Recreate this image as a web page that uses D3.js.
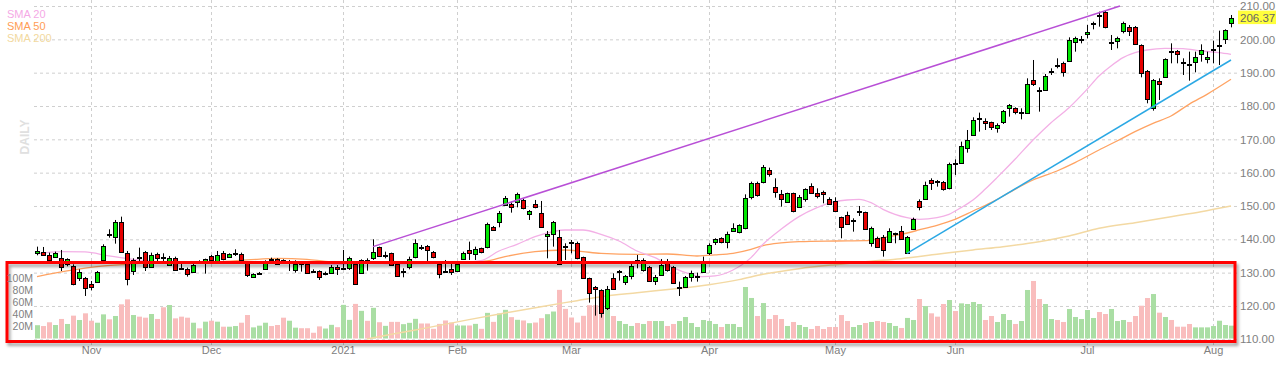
<!DOCTYPE html>
<html>
<head>
<meta charset="utf-8">
<script src="https://cdn.jsdelivr.net/npm/d3@7"></script>
<style>
body { margin: 0; background: #fff; }
text { font-family: "Liberation Sans", Arial, sans-serif; }
</style>
</head>
<body>
<div id="chart"></div>
<script>

// daily candles, Oct 20 2020 .. Aug 5 2021 (200 sessions)
var opens = [
  135.8,136.2,135.3,134.7,134.3,132.5,132.0,128.3,128.3,126.5,
  127.2,133.8,141.6,140.8,145.3,136.0,130.5,134.8,136.2,131.8,
  135.5,134.6,132.3,134.5,131.5,131.2,130.3,133.6,133.2,135.0,
  133.3,135.8,134.7,135.9,135.7,133.0,128.7,129.9,131.0,134.2,
  134.0,133.8,133.3,130.7,132.8,132.7,130.4,130.5,129.8,130.0,
  131.8,131.3,131.3,132.5,130.0,133.9,134.3,137.6,135.2,135.8,
  132.5,130.2,131.6,134.6,137.6,138.0,136.1,132.5,130.6,131.2,
  130.6,134.0,136.8,135.6,137.3,137.6,143.6,145.1,150.3,150.5,
  151.3,151.8,147.6,150.6,148.0,141.0,141.6,140.6,137.9,139.1,
  139.0,134.6,128.3,125.8,124.8,119.5,128.5,130.2,127.1,129.1,
  133.7,130.8,131.6,127.6,129.3,133.0,131.6,125.5,125.8,128.6,
  128.7,130.3,136.0,139.1,140.3,139.1,142.6,142.3,143.3,152.6,
  157.0,157.1,160.8,155.6,153.6,151.3,153.8,149.8,152.0,156.0,
  153.8,154.2,152.1,151.5,146.6,147.3,145.5,148.4,148.1,138.8,
  140.5,140.8,139.3,141.7,142.5,135.8,143.0,151.5,152.1,157.8,
  157.4,157.1,155.3,162.9,162.8,167.3,171.3,176.2,175.5,175.1,
  173.5,175.1,179.3,179.3,177.9,177.8,187.8,184.9,184.8,190.2,
  192.4,193.0,193.6,199.1,199.9,201.5,204.7,207.4,208.3,198.9,
  199.6,202.5,203.8,203.6,198.3,190.5,179.3,187.5,188.8,196.4,
  196.5,193.2,192.6,193.1,195.5,194.1,197.0,198.0,200.0,205.0
];
var highs = [
  137.8,137.7,136.0,136.3,136.8,134.3,132.5,131.0,128.7,127.5,
  130.5,138.5,143.0,145.8,146.8,136.5,134.3,137.5,136.5,136.0,
  136.0,135.8,135.0,134.8,133.0,131.5,132.7,133.7,134.2,135.3,
  136.5,136.5,135.8,137.0,136.0,133.2,129.8,130.2,133.7,134.5,
  134.3,134.0,133.8,133.7,133.0,133.0,131.0,130.7,130.3,132.3,
  132.3,136.8,134.8,132.8,134.0,134.3,140.0,137.8,136.3,136.0,
  132.8,131.3,134.8,140.0,138.3,138.3,136.5,132.8,133.8,132.8,
  132.8,136.3,139.3,137.8,137.5,145.0,144.0,148.5,153.0,151.3,
  154.0,152.3,148.8,151.8,151.5,142.5,145.5,142.8,138.8,139.8,
  139.3,134.8,128.5,126.0,125.0,126.0,129.8,130.8,129.3,132.6,
  135.3,134.3,132.0,129.3,134.1,134.1,132.0,127.3,129.0,130.6,
  130.0,134.8,138.8,140.3,140.6,142.3,144.8,144.5,153.5,157.3,
  157.3,162.3,161.5,158.3,154.8,154.0,154.0,153.3,155.3,156.8,
  155.3,154.6,152.6,152.6,146.8,148.3,146.3,150.0,148.3,143.8,
  140.8,141.3,143.3,142.0,144.0,141.0,146.5,152.0,157.3,158.3,
  157.8,157.5,163.0,164.0,169.3,172.8,176.6,178.0,176.3,175.3,
  174.8,178.8,180.6,179.6,179.3,188.3,193.8,185.6,189.6,191.3,
  194.3,193.3,200.6,200.8,201.0,204.3,205.3,208.3,208.8,201.3,
  200.8,205.3,204.3,204.0,198.5,190.8,188.1,188.3,194.3,198.8,
  196.8,194.3,196.3,196.3,198.5,196.3,199.6,202.6,203.0,207.3
];
var lows = [
  135.2,135.0,133.0,134.5,130.5,131.9,126.2,127.5,123.0,124.7,
  127.0,133.5,140.5,138.7,136.0,126.2,129.3,133.0,130.5,131.5,
  133.0,133.0,132.0,130.5,131.0,128.8,130.0,133.0,129.7,133.5,
  133.0,133.7,134.5,135.0,133.5,128.7,128.5,129.7,130.8,133.3,
  132.3,133.3,130.5,130.0,130.3,130.0,130.0,127.8,129.2,129.6,
  129.3,131.0,130.8,126.3,129.6,130.6,133.8,134.8,134.3,132.0,
  128.8,128.6,131.0,134.3,136.8,133.3,134.3,128.3,130.0,129.3,
  130.3,133.8,133.8,133.8,135.8,137.3,142.6,143.6,150.0,148.0,
  149.6,149.0,145.8,149.3,143.5,134.3,137.8,132.3,133.8,135.8,
  134.0,128.3,121.0,117.1,116.5,118.8,124.8,127.6,126.3,128.0,
  131.3,130.3,127.3,126.3,129.0,130.3,126.6,123.0,125.6,127.3,
  127.3,130.0,135.3,138.3,138.8,137.3,142.3,141.8,143.0,152.0,
  152.8,156.8,158.8,152.5,149.8,151.1,148.1,149.6,151.3,153.8,
  152.3,150.8,150.3,148.3,140.3,144.3,142.3,147.0,142.8,137.8,
  137.5,134.8,139.0,138.8,139.8,135.7,142.8,148.7,151.8,154.8,
  155.8,154.6,155.0,159.3,162.6,166.0,171.0,172.3,172.8,172.8,
  172.0,174.6,176.8,177.5,176.0,177.6,186.0,178.3,184.6,189.3,
  191.3,188.8,193.3,196.3,198.8,200.3,203.0,203.8,203.3,196.8,
  197.3,201.8,201.0,198.3,188.6,180.8,178.6,181.8,188.6,192.8,
  192.8,189.3,187.6,190.1,193.3,192.8,192.8,192.3,198.6,203.6
];
var closes = [
  136.5,135.3,133.7,135.8,131.8,134.0,126.5,130.2,125.3,125.8,
  130.2,138.0,141.5,145.3,136.3,128.0,133.9,134.6,131.8,135.2,
  134.3,134.4,134.5,130.7,131.4,129.5,132.3,133.5,134.0,133.8,
  135.2,134.0,135.5,136.0,133.7,129.3,129.5,130.0,133.0,133.7,
  132.5,133.7,133.5,132.7,132.7,130.0,130.3,128.8,129.9,131.8,
  131.0,131.5,134.3,126.5,133.8,133.7,136.3,135.0,135.4,132.3,
  129.0,130.4,134.0,138.8,137.5,136.8,134.8,129.6,130.5,130.3,
  132.5,135.8,135.8,137.0,136.1,144.6,142.8,147.8,152.5,149.8,
  153.5,149.3,148.5,149.6,143.8,141.5,145.1,132.5,137.6,138.9,
  134.3,128.5,124.0,125.0,117.8,125.2,125.1,130.4,129.0,132.1,
  133.5,133.8,127.6,128.6,132.3,130.8,126.8,125.7,128.6,129.8,
  128.9,133.0,138.3,140.0,139.1,141.6,143.3,144.3,152.3,156.8,
  153.3,161.6,159.6,154.1,152.0,153.8,148.6,152.8,155.0,154.0,
  153.1,153.5,150.6,148.6,143.8,144.6,145.7,148.6,143.0,143.3,
  137.8,136.8,142.6,141.9,140.0,140.7,146.0,149.8,156.3,156.8,
  157.2,155.0,162.6,162.7,168.0,169.8,175.8,176.4,174.8,173.6,
  174.3,178.5,180.3,178.1,178.1,186.5,186.5,184.7,189.0,190.4,
  192.2,190.3,199.8,200.3,200.1,202.1,204.9,207.2,203.8,199.1,
  200.3,205.0,202.6,198.6,189.8,182.0,187.8,186.5,194.0,196.2,
  195.5,193.0,192.4,194.8,196.8,194.8,197.2,198.3,202.8,206.37
];
// volume in millions of shares
var volumes = [
  22.0,20.6,26.8,22.3,32.3,24.0,37.8,30.6,41.6,29.4,
  26.1,39.9,31.7,37.2,56.5,64.7,38.8,36.1,34.4,40.5,
  32.3,51.6,55.4,33.3,36.1,34.4,26.1,16.8,27.8,29.4,
  27.8,19.5,19.5,20.6,26.1,38.8,18.4,21.2,26.1,20.6,
  22.3,34.4,29.4,17.9,17.0,17.0,9.5,20.0,16.5,22.6,
  18.7,55.6,30.8,57.2,45.7,29.2,50.7,26.9,20.9,27.5,
  27.5,23.7,25.9,32.5,24.8,24.8,16.0,24.2,29.8,26.4,
  21.5,21.5,21.5,24.2,16.0,42.4,27.5,41.3,47.4,35.3,
  30.9,29.8,25.3,26.4,33.6,40.2,44.6,80.4,49.0,34.7,
  26.4,37.5,55.0,55.0,62.0,50.0,37.2,28.9,24.0,20.7,
  25.6,24.0,28.9,28.9,28.9,20.7,24.0,28.9,35.5,25.6,
  19.0,30.6,28.9,24.0,19.0,24.0,24.0,19.0,85.1,67.0,
  37.2,58.6,32.2,38.8,32.2,20.7,27.3,22.3,19.0,15.7,
  20.7,15.7,19.0,19.0,38.8,28.9,19.0,22.3,25.6,27.3,
  28.9,27.3,25.6,20.7,17.4,34.0,30.6,65.3,53.6,41.6,
  36.1,57.0,63.6,45.4,58.1,57.0,60.3,57.0,30.6,37.2,
  27.3,40.5,30.6,24.0,28.9,80.2,95.1,65.3,57.0,32.2,
  30.6,27.3,48.8,35.5,32.2,47.1,33.9,43.8,40.5,48.8,
  28.9,30.6,27.3,37.2,54.2,66.9,73.5,42.7,35.5,30.6,
  19.5,19.5,24.0,18.4,18.4,18.4,20.6,29.4,22.3,21.2
];

// moving averages: [session index, value]
var sma20 = [[0,135.6],[4,136.3],[8,136.2],[12,135.0],[16,134.0],[20,133.3],[25,132.8],[30,132.9],
  [35,133.3],[40,133.0],[45,132.6],[50,132.5],[55,132.8],[60,132.6],[65,132.7],[70,133.0],[74,133.6],
  [77,136.5],[80,138.5],[83,140.8],[86,142.3],[88,142.8],[91,142.8],[94,141.5],[97,139.5],[100,136.5],
  [103,134.5],[106,131.5],[109,129.5],[111,128.8],[113,129.0],[116,130.8],[119,134.5],[121,138.5],
  [124,143.0],[127,146.8],[130,149.5],[133,151.3],[135,151.8],[137,152.0],[139,151.0],[141,149.0],
  [143,147.5],[145,146.5],[147,146.0],[150,146.5],[152,147.5],[154,149.5],[156,151.8],[158,155.0],
  [160,158.5],[163,164.0],[166,169.8],[169,175.0],[172,179.5],[175,185.0],[177,189.0],[179,192.0],
  [181,194.5],[183,196.0],[185,196.8],[188,197.3],[191,197.2],[194,196.5],[197,196.0],[199,195.5]];
var sma50 = [[0,128.8],[5,130.5],[10,131.8],[15,132.5],[20,133.0],[30,133.3],[35,133.8],[40,134.3],
  [45,134.0],[49,133.3],[55,133.2],[60,133.0],[70,133.0],[75,133.5],[78,134.8],[83,136.3],[88,136.8],
  [91,136.3],[94,135.8],[100,135.5],[105,135.6],[110,135.0],[113,135.3],[116,135.8],[119,137.0],
  [121,138.1],[124,138.9],[127,139.3],[133,139.5],[138,139.6],[141,140.5],[144,141.5],[147,142.8],
  [150,144.2],[153,146.0],[156,148.5],[159,151.0],[162,154.0],[166,157.8],[170,160.5],[173,163.0],
  [177,166.8],[180,169.5],[183,172.3],[186,174.8],[189,177.0],[192,180.5],[195,183.5],[199,188.0]];
var sma200 = [[55,110.1],[60,111.8],[66,113.8],[72,115.9],[78,117.9],[84,119.8],[90,121.6],[94,122.8],
  [100,124.0],[106,125.1],[112,126.4],[117,127.9],[121,129.5],[127,131.2],[133,132.4],[139,133.4],
  [144,134.2],[150,135.5],[156,136.8],[161,137.8],[167,139.3],[172,141.0],[177,143.3],[183,145.0],
  [189,146.8],[194,148.3],[199,150.0]];

// hand-drawn trend lines
var resistanceLine = [[56,137.8],[180.5,210.0]];
var supportLine = [[145,135.8],[199,193.8]];

var monthTicks = [9,29,51,70,89,112,133,153,175,196];
var monthLabels = ["Nov","Dec","2021","Feb","Mar","Apr","May","Jun","Jul","Aug"];
var priceTicks = [110,120,130,140,150,160,170,180,190,200,210];
var volumeTicks = [20,40,60,80,100];

var W = 1280, H = 368,
    plotLeft = 34, plotRight = 1237;

var svg = d3.select("#chart").append("svg")
    .attr("width", W)
    .attr("height", H);

var defs = svg.append("defs");
defs.append("clipPath").attr("id", "plotclip")
  .append("rect").attr("x", plotLeft).attr("y", 0)
  .attr("width", plotRight - plotLeft).attr("height", 341);
defs.append("filter").attr("id", "shadow")
    .attr("x", "-2%").attr("y", "-10%").attr("width", "104%").attr("height", "125%")
  .append("feDropShadow")
    .attr("dx", 2).attr("dy", 3).attr("stdDeviation", 1.5)
    .attr("flood-color", "#000").attr("flood-opacity", 0.35);

var x = d3.scaleLinear().domain([0, 199]).range([37, 1231]);
var y = d3.scaleLinear().domain([110, 210]).range([339.3, 6]);
var yv = d3.scaleLinear().domain([0, 100]).range([338.5, 278]);

// grid
var gy = svg.append("g")
    .attr("transform", "translate(" + plotLeft + ",0)")
    .call(d3.axisLeft(y).tickValues(priceTicks).tickSize(-(plotRight - plotLeft)).tickFormat(""));
var gx = svg.append("g")
    .attr("transform", "translate(0,345)")
    .call(d3.axisBottom(x).tickValues(monthTicks).tickSize(-345).tickFormat(""));
[gy, gx].forEach(function(g){
  g.select(".domain").remove();
  g.selectAll("line").attr("stroke", "#cfcfcf").attr("stroke-dasharray", "3,3");
});

// axis labels
var ax = svg.append("g")
    .attr("transform", "translate(0,345)")
    .call(d3.axisBottom(x).tickValues(monthTicks).tickSize(0).tickPadding(1)
      .tickFormat(function(d, i){ return monthLabels[i]; }));
var ay = svg.append("g")
    .attr("transform", "translate(" + plotRight + ",0)")
    .call(d3.axisRight(y).tickValues(priceTicks).tickSize(0).tickPadding(3).tickFormat(d3.format(".2f")));
[ax, ay].forEach(function(g){
  g.select(".domain").remove();
  g.selectAll("text").attr("fill", "#808080").style("font-family", "'Liberation Sans', Arial, sans-serif");
});
ax.selectAll("text").style("font-size", "11px");
ay.selectAll("text").style("font-size", "11.5px");

var idx = d3.range(opens.length);
var up = function(i){ return closes[i] >= opens[i]; };
var cx = function(i){ return Math.round(x(i)); };

var plot = svg.append("g").attr("clip-path", "url(#plotclip)");

// volume
plot.append("g").selectAll("rect")
  .data(idx)
  .join("rect")
    .attr("x", function(i){ return cx(i) - 2; })
    .attr("width", 5)
    .attr("y", function(i){ return yv(volumes[i]); })
    .attr("height", function(i){ return yv(0) - yv(volumes[i]); })
    .attr("fill", function(i){ return up(i) ? "#aadea4" : "#f9bdbd"; });

// moving averages
var line = d3.line()
    .curve(d3.curveMonotoneX)
    .x(function(d){ return x(d[0]); })
    .y(function(d){ return y(d[1]); });
plot.append("path").attr("d", line(sma200)).attr("fill", "none")
    .attr("stroke", "#f3d9a3").attr("stroke-width", 1.5);
plot.append("path").attr("d", line(sma50)).attr("fill", "none")
    .attr("stroke", "#ffa363").attr("stroke-width", 1.3);
plot.append("path").attr("d", line(sma20)).attr("fill", "none")
    .attr("stroke", "#f3b0e6").attr("stroke-width", 1.3);

// candles
var candle = plot.append("g").selectAll("g")
  .data(idx)
  .join("g");
candle.append("line")
    .attr("x1", function(i){ return cx(i) + 0.5; })
    .attr("x2", function(i){ return cx(i) + 0.5; })
    .attr("y1", function(i){ return y(highs[i]); })
    .attr("y2", function(i){ return y(lows[i]); })
    .attr("stroke", "#000")
    .attr("stroke-width", 1);
candle.append("rect")
    .attr("x", function(i){ return cx(i) - 1.5; })
    .attr("width", 4)
    .attr("y", function(i){ return Math.round(y(Math.max(opens[i], closes[i]))) + 0.5; })
    .attr("height", function(i){
      var t = Math.round(y(Math.max(opens[i], closes[i]))),
          b = Math.round(y(Math.min(opens[i], closes[i])));
      return Math.max(1, b - t);
    })
    .attr("fill", function(i){ return up(i) ? "#00e600" : "#e60000"; })
    .attr("stroke", "#000")
    .attr("stroke-width", 1);

// trend lines
var tl = d3.line().x(function(d){ return x(d[0]); }).y(function(d){ return y(d[1]); });
plot.append("path").attr("d", tl(resistanceLine)).attr("fill", "none")
    .attr("stroke", "#b84fd6").attr("stroke-width", 1.5);
plot.append("path").attr("d", tl(supportLine)).attr("fill", "none")
    .attr("stroke", "#2ba8e4").attr("stroke-width", 1.5);

// annotation box round the volume pane
svg.append("rect")
    .attr("x", 7).attr("y", 262.5)
    .attr("width", 1228).attr("height", 79)
    .attr("fill", "none")
    .attr("stroke", "#ff0000")
    .attr("stroke-width", 3)
    .attr("filter", "url(#shadow)");

// volume labels sit over the box edge
var av = svg.append("g")
    .attr("transform", "translate(" + plotLeft + ",0)")
    .call(d3.axisLeft(yv).tickValues(volumeTicks).tickSize(0).tickPadding(1)
      .tickFormat(function(d){ return d + "M"; }));
av.select(".domain").remove();
av.selectAll("text").attr("fill", "#808080")
    .style("font-family", "'Liberation Sans', Arial, sans-serif")
    .style("font-size", "10.5px");

// last price tag
var last = closes[closes.length - 1];
svg.append("rect")
    .attr("x", 1238).attr("y", y(last) - 7.5)
    .attr("width", 38).attr("height", 13.5)
    .attr("fill", "#ffff3c");
svg.append("text")
    .attr("x", 1240).attr("y", y(last) + 4)
    .attr("fill", "#666")
    .style("font-size", "11.5px")
    .text(last.toFixed(2));

// legend
var legend = [["SMA 20", "#f5a9e6"], ["SMA 50", "#ff9d57"], ["SMA 200", "#f2d9a0"]];
svg.append("g").selectAll("text")
  .data(legend)
  .join("text")
    .attr("x", 7)
    .attr("y", function(d, i){ return 18 + i * 12; })
    .attr("fill", function(d){ return d[1]; })
    .style("font-size", "11px")
    .text(function(d){ return d[0]; });

svg.append("text")
    .attr("transform", "translate(29,137) rotate(-90)")
    .attr("text-anchor", "middle")
    .attr("fill", "#e0e0e0")
    .style("font-size", "12px")
    .style("font-weight", "bold")
    .text("DAILY");

</script>
</body>
</html>
